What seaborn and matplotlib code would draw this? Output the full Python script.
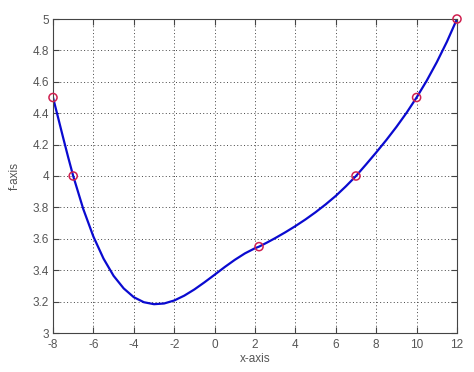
import numpy as np
import pandas as pd
import matplotlib
matplotlib.use('Agg')
import matplotlib.pyplot as plt
import seaborn as sns

# Data points (circles)
pts_x = [-8, -7, 2.2, 7, 10, 12]
pts_y = [4.5, 4.0, 3.55, 4.0, 4.5, 5.0]

# Smooth curve through the points
curve_x = [-8, -7.75, -7.5, -7.25, -7, -6.5, -6, -5.5, -5, -4.5, -4, -3.5, -3,
           -2.5, -2, -1.5, -1, -0.5, 0, 0.5, 1, 1.5, 2, 2.2, 2.6, 3, 3.5, 4,
           4.5, 5, 5.5, 6, 6.5, 7, 7.5, 8, 8.5, 9, 9.5, 10, 10.5, 11, 11.5, 12]
curve_y = [4.5, 4.373, 4.245, 4.12, 4.0, 3.789, 3.614, 3.474, 3.364, 3.284,
           3.228, 3.196, 3.1835, 3.188, 3.207, 3.238, 3.2775, 3.323, 3.371,
           3.42, 3.466, 3.507, 3.54, 3.55, 3.5764, 3.6044, 3.6414, 3.6809,
           3.7234, 3.7694, 3.8194, 3.8734, 3.9344, 4.0, 4.074, 4.15, 4.229,
           4.3125, 4.402, 4.5, 4.607, 4.725, 4.855, 5.0]

curve = pd.DataFrame({'x': curve_x, 'y': curve_y})
points = pd.DataFrame({'x': pts_x, 'y': pts_y})

sns.set_style('white')
plt.rcParams['font.family'] = ['Liberation Sans', 'DejaVu Sans']
plt.rcParams['axes.unicode_minus'] = False

fig = plt.figure(figsize=(4.74, 3.72), dpi=100)
ax = fig.add_axes([53 / 474, 1 - 333 / 372, 404 / 474, 314 / 372])

sns.lineplot(data=curve, x='x', y='y', ax=ax, color='#0a0ad0', linewidth=1.6,
             estimator=None, sort=False)
sns.scatterplot(data=points, x='x', y='y', ax=ax, marker='o', s=34,
                facecolor='none', edgecolor='#d02050', linewidth=1.1, zorder=5,
                clip_on=False)

ax.set_xlim(-8, 12)
ax.set_ylim(3, 5)
ax.set_xticks(np.arange(-8, 13, 2))
ax.set_yticks(np.round(np.arange(3, 5.01, 0.2), 1))
ax.set_yticklabels(['3', '3.2', '3.4', '3.6', '3.8', '4', '4.2', '4.4', '4.6', '4.8', '5'])
ax.grid(True, linestyle=(0, (1, 2.5)), color='#444444', linewidth=0.7)
ax.tick_params(direction='in', length=4, width=0.8, colors='#444444',
               labelcolor='#555555', labelsize=8.5, top=True, right=True,
               bottom=True, left=True)
ax.tick_params(axis='x', pad=4)
ax.tick_params(axis='y', pad=3)
for s in ax.spines.values():
    s.set_color('#444444')
    s.set_linewidth(0.8)
ax.set_xlabel('x-axis', color='#555555', fontsize=8.5, labelpad=2)
ax.set_ylabel('f-axis', color='#555555', fontsize=8.5, labelpad=8)

fig.savefig('out.png', dpi=100)
